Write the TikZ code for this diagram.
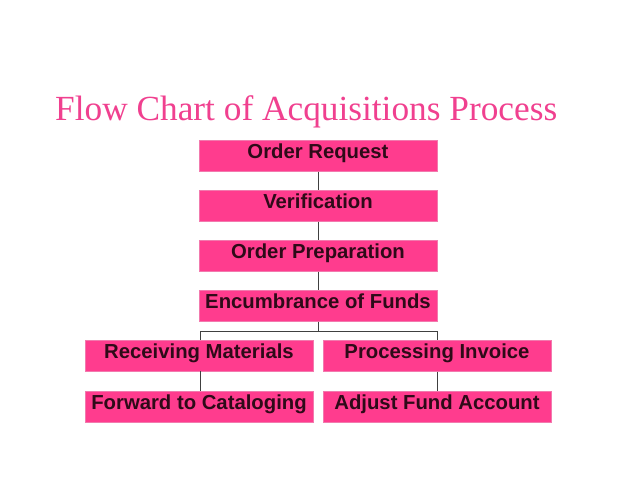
\documentclass[tikz,border=0pt]{standalone}
\usepackage{fontspec}
\setmainfont{Liberation Serif}
\newfontfamily\boxfont{Liberation Sans}
\definecolor{boxpink}{HTML}{FF3C8E}
\definecolor{edgepink}{HTML}{F27AAE}
\definecolor{titlepink}{HTML}{F0408F}
\definecolor{boxtext}{HTML}{2E0A18}
\tikzset{
  box/.style={draw=edgepink, line width=1pt, fill=boxpink, minimum height=31pt, inner sep=0pt, text height=0.73em, text depth=0.2em, font=\boxfont\bfseries\fontsize{20.3}{22}\selectfont, text=boxtext},
  wide/.style={box, minimum width=238pt},
  half/.style={box, minimum width=228pt},
  conn/.style={draw=black!75, line width=0.8pt}
}
\begin{document}
\begin{tikzpicture}[x=1pt,y=-1pt]
\useasboundingbox (0,0) rectangle (638,479);
\node[font=\fontsize{35.3}{37}\selectfont, text=titlepink, anchor=base west, inner sep=0pt] (title) at (55,120) {Flow Chart of Acquisitions Process};
\node[wide] (a) at (318,155.5) {Order Request};
\node[wide] (b) at (318,205.5) {Verification};
\node[wide] (c) at (318,255.5) {Order Preparation};
\node[wide] (d) at (318,305.5) {Encumbrance of Funds};
\node[half] (e) at (199,355.5) {Receiving Materials};
\node[half] (f) at (437,355.5) {Processing Invoice};
\node[half] (g) at (199,406.5) {Forward to Cataloging};
\node[half] (h) at (437,406.5) {Adjust Fund Account};
\coordinate (j) at (318,331);
\draw[conn] (a) -- (b);
\draw[conn] (b) -- (c);
\draw[conn] (c) -- (d);
\draw[conn] (d.south) -- (j);
\draw[conn] (j) -- (200,331) -- (200,340);
\draw[conn] (j) -- (437,331) -- (f.north);
\draw[conn] (200,371) -- (200,391);
\draw[conn] (f) -- (h);
\end{tikzpicture}
\end{document}
